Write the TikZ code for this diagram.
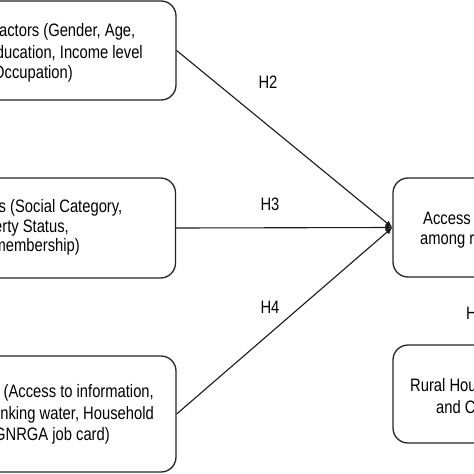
\documentclass[tikz,border=0pt]{standalone}
\usepackage{fontspec}
\setmainfont{Liberation Sans}[FakeStretch=0.82]
\usetikzlibrary{arrows.meta}
\tikzset{
  box/.style={draw=black!85, line width=1.3pt, rounded corners=15pt, fill=white, inner sep=0pt},
  txt/.style={inner sep=0pt, font=\fontsize{18}{21}\selectfont, text=black},
  hyp/.style={inner sep=0pt, font=\fontsize{18}{21}\selectfont, text=black},
  conn/.style={line width=1.1pt, draw=black!90, -{Latex[length=7pt,width=6pt]}}
}
\begin{document}
\begin{tikzpicture}[x=1pt,y=-1pt]
\useasboundingbox (0,0) rectangle (474,474);
\fill[white] (0,0) rectangle (474,474);
\clip (0,0) rectangle (474,474);
% boxes
\node[box, minimum width=276pt, minimum height=99pt] (b1) at (38,50.5) {};
\node[box, minimum width=276pt, minimum height=100pt] (b2) at (37.5,228) {};
\node[box, minimum width=276pt, minimum height=116pt] (b3) at (38,414) {};
\node[box, minimum width=177pt, minimum height=99pt] (b4) at (481.5,227.5) {};
\node[box, minimum width=177pt, minimum height=98pt] (b5) at (481.5,394) {};
% texts box 1
\node[txt, anchor=east] (t11) at (135.5,32) {factors (Gender, Age,};
\node[txt, anchor=east] (t12) at (143,53) {Education, Income level};
\node[txt, anchor=east] (t13) at (73,74) {Occupation)};
% texts box 2
\node[txt, anchor=east] (t21) at (122.5,208) {factors (Social Category,};
\node[txt, anchor=east] (t22) at (69,228) {Property Status,};
\node[txt, anchor=east] (t23) at (80,247) {SHG membership)};
% texts box 3
\node[txt, anchor=east] (t31) at (154,393) {factors (Access to information,};
\node[txt, anchor=east] (t32) at (154,415) {Drinking water, Household};
\node[txt, anchor=east] (t33) at (110,436) {MGNRGA job card)};
% texts box 4
\node[txt, anchor=west] (t41) at (423,218) {Access to};
\node[txt, anchor=west] (t42) at (420,240) {among rural};
% texts box 5
\node[txt, anchor=west] (t51) at (410,385) {Rural Household};
\node[txt, anchor=west] (t52) at (436,407) {and Control};
% connectors
\draw[conn] (b1.east) -- (b4.west);
\draw[conn] (b2.east) -- (b4.west);
\draw[conn] (b3.east) -- (b4.west);
% labels
\node[hyp] (h2) at (268,82) {H2};
\node[hyp] (h3) at (270,204) {H3};
\node[hyp] (h4) at (270,307) {H4};
\node[hyp, anchor=west] (h1) at (466,313) {H1};
\end{tikzpicture}
\end{document}
